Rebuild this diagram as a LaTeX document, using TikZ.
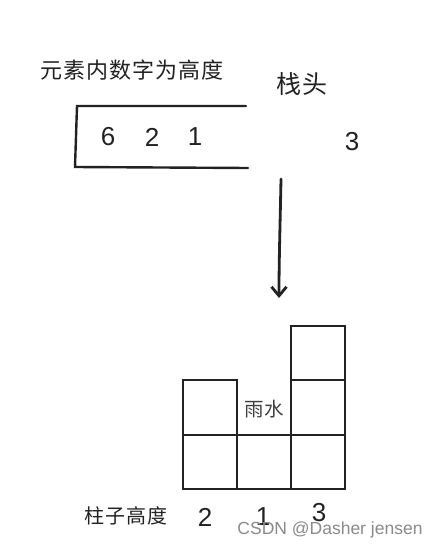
\documentclass[tikz,border=0pt]{standalone}
\usepackage{fontspec}
\setmainfont{Liberation Sans}
\newfontfamily\cjk[LetterSpace=5]{Noto Sans CJK SC}
\usetikzlibrary{arrows.meta}
\definecolor{ink}{HTML}{222222}
\definecolor{wm}{HTML}{8A8A8A}
\tikzset{
  txt/.style={inner sep=0pt, anchor=center, text=ink},
  cjklabel/.style={txt, font=\cjk\fontsize{22}{26}\selectfont},
  digit/.style={txt, font=\fontsize{26}{30}\selectfont},
  cell/.style={draw=ink, line width=2.6pt},
  stackline/.style={draw=ink, line width=2.4pt, line cap=round},
  pusharrow/.style={draw=ink, line width=2.8pt, line cap=round, -{Straight Barb[length=9pt, width=15pt, line width=2.8pt]}}
}
\begin{document}
\begin{tikzpicture}[x=1pt,y=-1pt]
\useasboundingbox[fill=white] (0,0) rectangle (441,551);
% stack container
\coordinate (stTR) at (246,106);
\coordinate (stTL) at (77,106);
\coordinate (stBL) at (75,167);
\coordinate (stBR) at (248,168);
\draw[stackline] (stTR) -- (stTL) -- (stBL) -- (stBR);
% labels
\node[cjklabel] (note) at (132,70) {元素内数字为高度};
\node[txt, font=\cjk\fontsize{25}{29}\selectfont] (head) at (302,84) {栈头};
\node[digit] (s6) at (108,137) {6};
\node[digit] (s2) at (152,137) {2};
\node[digit] (s1) at (195,137) {1};
\node[digit] (in3) at (352,142) {3};
% arrow
\coordinate (aTop) at (281,179);
\coordinate (aTip) at (279,298);
\draw[pusharrow] (aTop) .. controls (280,230) and (279,260) .. (aTip);
% bars
\draw[cell] (183,435) rectangle (237,489);
\draw[cell] (183,380) rectangle (237,435);
\draw[cell] (237,435) rectangle (291,489);
\draw[cell] (291,435) rectangle (345,489);
\draw[cell] (291,380) rectangle (345,435);
\draw[cell] (291,326) rectangle (345,380);
\node[txt, text=black!75, font=\cjk\fontsize{19.5}{23}\selectfont] (rain) at (264,409) {雨水};
% bottom labels
\node[txt, font=\cjk\fontsize{20}{24}\selectfont] (hlabel) at (126,516) {柱子高度};
\node[digit] (h2) at (205,517) {2};
\node[digit] (h1) at (263,517) {1};
\node[digit] (h3) at (319,513) {3};
\node[txt, text=wm, font=\fontsize{17.5}{20}\selectfont] (wmark) at (330,530) {CSDN @Dasher jensen};
\end{tikzpicture}
\end{document}
